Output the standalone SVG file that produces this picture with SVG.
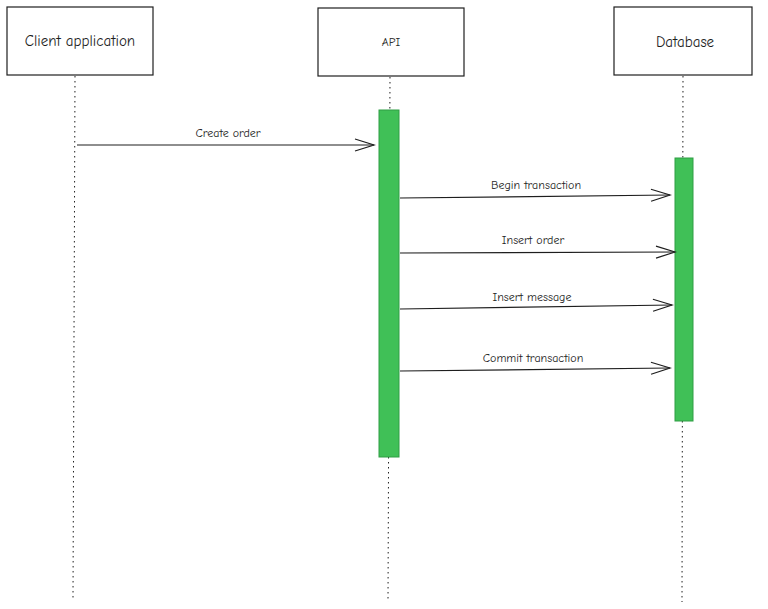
<svg xmlns="http://www.w3.org/2000/svg" width="768" height="609" viewBox="0 0 768 609">
<style>
.box{fill:#fff;stroke:#1e1e1e;stroke-width:1.2}
.life{stroke:#1e1e1e;stroke-width:1;stroke-dasharray:1.5 3.5;fill:none}
.act{fill:#40c057;stroke:#2f9e44;stroke-width:1}
.msg{stroke:#1e1e1e;stroke-width:1.2;fill:none;marker-end:url(#ah)}
text{font-family:"Comic Neue","Comic Sans MS","Liberation Sans",sans-serif;fill:#1e1e1e;text-anchor:middle}
.t{font-size:15px}
.l{font-size:12px}
</style>
<defs><marker id="ah" markerWidth="22" markerHeight="14" refX="20" refY="7" orient="auto" markerUnits="userSpaceOnUse"><path d="M1,1 L20,7 L1,13" fill="none" stroke="#1e1e1e" stroke-width="1.2"/></marker></defs>
<g id="lifelines">
<line class="life" x1="75" y1="76" x2="73" y2="598"/>
<line class="life" x1="390" y1="77" x2="388" y2="602"/>
<line class="life" x1="683" y1="76" x2="682" y2="602"/>
</g>
<g id="client"><rect class="box" x="7" y="7" width="146" height="68"/><text class="t" x="80" y="46">Client application</text></g>
<g id="api"><rect class="box" x="318" y="8" width="146" height="68"/><text class="l" x="391" y="46">API</text></g>
<g id="database"><rect class="box" x="614" y="7" width="138" height="68"/><text class="t" x="685" y="47">Database</text></g>
<g id="api-activation"><rect class="act" x="379" y="110" width="20" height="347"/></g>
<g id="db-activation"><rect class="act" x="675" y="158" width="18" height="263"/></g>
<g id="connectors">
<path class="msg" d="M77,145 L374,145"/><text class="l" x="228" y="137">Create order</text>
<path class="msg" d="M400,198 L670,195"/><text class="l" x="536" y="189">Begin transaction</text>
<path class="msg" d="M400,253 L675,252"/><text class="l" x="533" y="244">Insert order</text>
<path class="msg" d="M400,309 L672,305"/><text class="l" x="532" y="301">Insert message</text>
<path class="msg" d="M400,371 L670,368"/><text class="l" x="533" y="362">Commit transaction</text>
</g>
</svg>
